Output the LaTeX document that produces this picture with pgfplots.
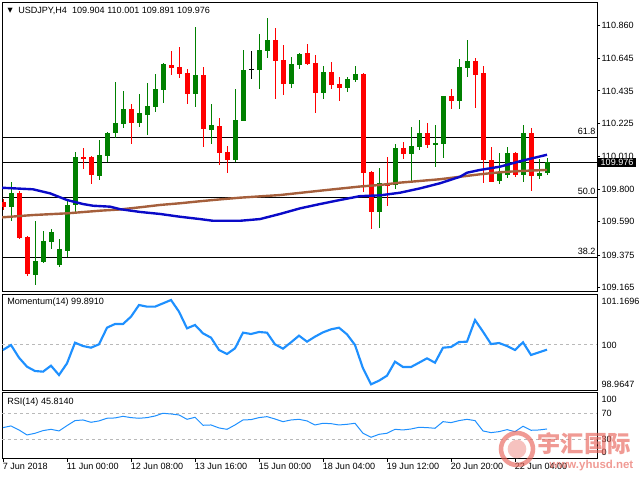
\documentclass[border=0pt]{standalone}
\usepackage{fontspec}
\setmainfont{Liberation Sans}
\newfontfamily\dejavu{DejaVu Sans}
\newfontfamily\cjk{Noto Sans CJK SC}
\usepackage{pgfplots}
\usepackage{pgfplotstable}
\pgfplotsset{compat=1.18}
\definecolor{cgreen}{RGB}{0,128,0}
\definecolor{cred}{RGB}{255,0,0}
\definecolor{mablue}{RGB}{10,10,200}
\definecolor{mabrown}{RGB}{165,95,60}
\definecolor{indblue}{RGB}{30,144,255}
\definecolor{dashgray}{RGB}{185,185,185}
\definecolor{wmred}{RGB}{232,100,90}
\newcommand{\lbl}{\fontsize{6.8}{8}\selectfont}

\pgfplotstableread{
i o h l c
1 109.684 109.847 109.597 109.778
4 109.245 109.597 109.183 109.337
5 109.331 109.531 109.323 109.466
6 109.460 109.544 109.419 109.525
7 109.312 109.479 109.301 109.415
8 109.402 109.723 109.365 109.699
9 109.699 110.041 109.641 110.008
12 109.886 110.118 109.860 110.021
13 110.015 110.172 109.976 110.165
14 110.163 110.494 110.131 110.230
15 110.223 110.436 110.197 110.320
17 110.230 110.419 110.204 110.294
18 110.279 110.488 110.152 110.337
19 110.333 110.544 110.301 110.447
20 110.443 110.617 110.359 110.610
24 110.417 110.847 110.333 110.537
26 110.185 110.350 110.094 110.215
29 109.989 110.445 109.976 110.247
30 110.243 110.699 110.241 110.570
32 110.570 110.804 110.447 110.699
33 110.694 110.905 110.649 110.763
36 110.481 110.654 110.456 110.608
37 110.602 110.681 110.578 110.673
40 110.423 110.596 110.385 110.557
43 110.456 110.525 110.428 110.512
44 110.505 110.596 110.494 110.544
47 109.652 109.937 109.550 109.841
49 109.828 110.097 109.806 110.066
51 110.028 110.202 109.843 110.079
52 110.075 110.247 110.056 110.163
54 110.090 110.215 109.946 110.099
55 110.092 110.405 110.004 110.402
57 110.372 110.641 110.320 110.589
58 110.583 110.763 110.525 110.628
62 109.856 110.034 109.836 109.903
63 109.892 110.075 109.877 110.034
65 109.892 110.215 109.847 110.163
67 109.888 109.997 109.868 109.907
68 109.904 110.001 109.891 109.976
}\bull

\pgfplotstableread{
i o h l c
0 109.720 109.737 109.666 109.684
2 109.778 109.791 109.481 109.486
3 109.492 109.499 109.241 109.252
10 110.008 110.068 109.936 110.004
11 110.008 110.015 109.836 109.892
16 110.320 110.355 110.094 110.228
21 110.602 110.692 110.539 110.585
22 110.589 110.718 110.520 110.546
23 110.550 110.576 110.352 110.417
25 110.537 110.589 110.075 110.191
27 110.208 110.262 109.961 110.036
28 110.041 110.081 109.907 109.991
34 110.763 110.841 110.383 110.630
35 110.634 110.733 110.410 110.481
38 110.679 110.739 110.602 110.608
39 110.615 110.666 110.294 110.423
41 110.557 110.621 110.449 110.475
42 110.479 110.525 110.372 110.456
45 110.544 110.550 109.785 109.907
46 109.912 109.918 109.542 109.652
48 109.841 110.008 109.697 109.819
50 110.066 110.105 109.994 110.028
53 110.163 110.228 110.068 110.086
56 110.402 110.447 110.320 110.372
59 110.628 110.647 110.326 110.537
60 110.550 110.596 109.843 109.989
61 109.989 110.075 109.847 109.849
64 110.034 110.043 109.877 109.892
66 110.163 110.198 109.791 109.888
}\bear

\pgfplotstableread{
i o h l c
31 110.576 110.692 110.512 110.576
}\doji

\pgfplotstableread{
i v
-0.125 109.810
3.75 109.800
5.875 109.774
8 109.731
10 109.705
11.25 109.694
13.375 109.688
14.625 109.672
17.125 109.654
19.625 109.641
22.125 109.623
24.625 109.608
26.25 109.597
29.625 109.597
32.125 109.608
34.625 109.641
37.125 109.677
39.625 109.705
42.125 109.731
44.625 109.756
47.125 109.761
49.625 109.778
52.125 109.806
54.625 109.839
57.125 109.881
58 109.907
59.625 109.925
62.125 109.946
64.625 109.981
68 110.023
}\mablue

\pgfplotstableread{
i v
-0.125 109.619
3.75 109.634
8 109.645
12.125 109.662
14.625 109.670
17.125 109.684
19.625 109.699
22.125 109.710
24.625 109.723
27.125 109.735
29.625 109.746
34.625 109.763
39.625 109.791
44.625 109.818
47.125 109.828
49.625 109.843
54.625 109.865
59.625 109.897
62.125 109.910
64.625 109.918
68 109.925
}\mabrown

\pgfplotstableread{
i v
0 99.884
1 99.998
2 99.707
3 99.500
4 99.401
5 99.386
6 99.523
7 99.309
8 99.577
9 100.052
10 99.975
11 99.937
12 100.014
13 100.396
14 100.481
15 100.481
16 100.649
17 100.917
18 100.879
19 100.879
20 100.955
21 101.032
22 100.764
23 100.381
24 100.458
25 100.266
26 100.167
27 99.884
28 99.792
29 99.922
30 100.282
31 100.251
32 100.297
33 100.282
34 100.014
35 99.914
36 100.060
37 100.213
38 100.075
39 100.190
40 100.289
41 100.358
42 100.396
43 100.243
44 99.998
45 99.462
46 99.095
47 99.179
48 99.294
49 99.615
50 99.493
51 99.493
52 99.592
53 99.692
54 99.592
55 99.937
56 99.952
57 100.067
58 100.075
59 100.572
60 100.304
61 100.021
62 100.044
63 99.975
64 99.884
65 100.060
66 99.769
67 99.830
68 99.891
}\mom

\pgfplotstableread{
i v
0 47.9
1 50.5
2 44.3
3 36.6
4 39.2
5 43.3
6 45.3
7 42.8
8 51.0
9 58.7
10 59.7
11 56.1
12 58.2
13 62.3
14 62.8
15 65.3
16 63.3
17 62.3
18 63.3
19 65.8
20 70.0
21 68.9
22 67.4
23 60.7
24 63.8
25 51.5
26 52.0
27 47.4
28 45.3
29 52.0
30 59.7
31 60.2
32 63.3
33 64.8
34 61.2
35 57.1
36 59.7
37 60.7
38 58.2
39 52.0
40 54.6
41 54.0
42 52.0
43 53.0
44 54.6
45 39.2
46 33.0
47 37.6
48 39.2
49 45.3
50 44.3
51 45.8
52 48.4
53 47.9
54 46.9
55 57.1
56 55.6
57 58.7
58 60.7
59 58.7
60 42.8
61 40.2
62 41.7
63 44.8
64 41.7
65 50.0
66 43.8
67 44.3
68 45.8
}\rsi

\pgfplotsset{
  panel/.style={
    scale only axis, width=446.25pt, anchor=north west,
    xmin=-0.125, xmax=74.25,
    axis line style={black, line width=0.75pt},
    tick label style={font=\lbl},
    /pgf/number format/assume math mode=true,
    yticklabel pos=right, ytick pos=right,
    xtick=\empty,
    tick align=outside, major tick length=2.25pt,
    tick style={black, line width=0.75pt},
    yticklabel style={anchor=west, inner sep=0pt, xshift=1pt},
  },
  wick/.style={draw=none, mark=none, forget plot,
    error bars/.cd, y dir=both, y explicit,
    error bar style={draw=#1, line width=0.75pt}, error mark=none},
  body/.style={draw=none, mark=none, forget plot,
    error bars/.cd, y dir=both, y explicit,
    error bar style={draw=#1, line width=3.75pt}, error mark=none},
}

\begin{document}
\begin{tikzpicture}
\path[use as bounding box] (0,0) rectangle (480pt,-360pt);

% ---------- main price panel ----------
\begin{axis}[panel, at={(1.5pt,-1.5pt)}, height=216.75pt,
  ymin=109.1439, ymax=111.0084,
  ytick={110.860,110.645,110.435,110.225,110.010,109.800,109.590,109.375,109.165},
  yticklabels={110.860,110.645,110.435,110.225,110.010,109.800,109.590,109.375,109.165}]
\addplot[black, line width=0.75pt, forget plot] coordinates {(-0.125,110.137) (74.25,110.137)};
\addplot[black, line width=0.75pt, forget plot] coordinates {(-0.125,109.976) (74.25,109.976)};
\addplot[black, line width=0.75pt, forget plot] coordinates {(-0.125,109.748) (74.25,109.748)};
\addplot[black, line width=0.75pt, forget plot] coordinates {(-0.125,109.361) (74.25,109.361)};
% wicks
\addplot[wick=cgreen] table[x=i, y expr={(\thisrow{h}+\thisrow{l})/2},
  y error plus expr={(\thisrow{h}-\thisrow{l})/2},
  y error minus expr={(\thisrow{h}-\thisrow{l})/2}] {\bull};
\addplot[wick=cred] table[x=i, y expr={(\thisrow{h}+\thisrow{l})/2},
  y error plus expr={(\thisrow{h}-\thisrow{l})/2},
  y error minus expr={(\thisrow{h}-\thisrow{l})/2}] {\bear};
\addplot[wick=black] table[x=i, y expr={(\thisrow{h}+\thisrow{l})/2},
  y error plus expr={(\thisrow{h}-\thisrow{l})/2},
  y error minus expr={(\thisrow{h}-\thisrow{l})/2}] {\doji};
% bodies
\addplot[body=cgreen] table[x=i, y expr={(\thisrow{o}+\thisrow{c})/2},
  y error plus expr={(\thisrow{c}-\thisrow{o})/2},
  y error minus expr={(\thisrow{c}-\thisrow{o})/2}] {\bull};
\addplot[body=cred] table[x=i, y expr={(\thisrow{o}+\thisrow{c})/2},
  y error plus expr={(\thisrow{o}-\thisrow{c})/2},
  y error minus expr={(\thisrow{o}-\thisrow{c})/2}] {\bear};
\addplot[draw=none, mark=none, forget plot,
  error bars/.cd, x dir=both, x fixed=0.3125,
  error bar style={draw=black, line width=0.75pt}, error mark=none]
  table[x=i, y=o] {\doji};
% moving averages
\addplot[mabrown, line width=1.8pt] table[x=i, y=v] {\mabrown};
\addplot[mablue, line width=1.8pt] table[x=i, y=v] {\mablue};
\end{axis}

% ---------- momentum panel ----------
\begin{axis}[panel, at={(1.5pt,-220.5pt)}, height=72pt,
  ymin=98.9647, ymax=101.1696,
  ytick={101.009,100,99.102}, yticklabels={101.1696,100,98.9647},
  ytick style={draw=none}]
\addplot[dashgray, line width=0.75pt, dash pattern=on 2.25pt off 2.25pt, forget plot]
  coordinates {(-0.125,100) (74.25,100)};
\addplot[indblue, line width=1.6pt] table[x=i, y=v] {\mom};
\end{axis}

% ---------- RSI panel ----------
\begin{axis}[panel, at={(1.5pt,-294.2pt)}, height=50pt,
  ymin=-0.3, ymax=102.3,
  ytick={91.5,70,30.5,10}, yticklabels={100,70,30,0},
  ytick style={draw=none},
  xtick={0,8,16,24,32,40,48,56,64},
  xticklabels={7 Jun 2018,11 Jun 00:00,12 Jun 08:00,13 Jun 16:00,15 Jun 00:00,18 Jun 04:00,19 Jun 12:00,20 Jun 20:00,22 Jun 04:00},
  xtick pos=bottom,
  xticklabel style={anchor=north west, inner sep=0pt, xshift=-0.3pt, yshift=-1pt}]
\addplot[dashgray, line width=0.75pt, dash pattern=on 2.25pt off 2.25pt, forget plot]
  coordinates {(-0.125,70) (74.25,70)};
\addplot[dashgray, line width=0.75pt, dash pattern=on 2.25pt off 2.25pt, forget plot]
  coordinates {(-0.125,30) (74.25,30)};
\addplot[indblue, line width=0.75pt] table[x=i, y=v] {\rsi};
\end{axis}

% ---------- texts ----------
\node[anchor=center, inner sep=0pt, font={\dejavu\fontsize{5}{6}\selectfont}] at (7.6pt,-7.9pt) {▼};
\node[anchor=west, inner sep=0pt, font=\lbl] at (13.5pt,-7.9pt) {USDJPY,H4\ \ 109.904 110.001 109.891 109.976};
\node[anchor=west, inner sep=0pt, font=\lbl] at (5.25pt,-226.5pt) {Momentum(14) 99.8910};
\node[anchor=west, inner sep=0pt, font=\lbl] at (5.25pt,-301.3pt) {RSI(14) 45.8140};
\node[anchor=east, inner sep=0pt, font=\lbl] at (446.8pt,-98.6pt) {61.8};
\node[anchor=east, inner sep=0pt, font=\lbl] at (446.8pt,-143.3pt) {50.0};
\node[anchor=east, inner sep=0pt, font=\lbl] at (446.8pt,-188.8pt) {38.2};
\node[fill=black, text=white, inner sep=0pt, minimum width=28.5pt, minimum height=6.4pt, font=\lbl] at (462.8pt,-121.9pt) {109.976};

% ---------- watermark ----------
\begin{scope}[opacity=0.65]
\draw[wmred, line width=3.4pt] (387.75pt,-336.75pt) circle (12pt);
\fill[wmred!60] (387.75pt,-336.75pt) circle (7pt);
\node[anchor=west, inner sep=0pt, text=wmred, font={\cjk\bfseries\fontsize{17.5}{18}\selectfont}] at (403pt,-332.6pt) {宇汇国际};
\node[anchor=west, inner sep=0pt, text=wmred, font={\bfseries\fontsize{8.6}{9}\selectfont}] at (412pt,-349.5pt) {www.yhusd.net};
\end{scope}
\end{tikzpicture}
\end{document}
